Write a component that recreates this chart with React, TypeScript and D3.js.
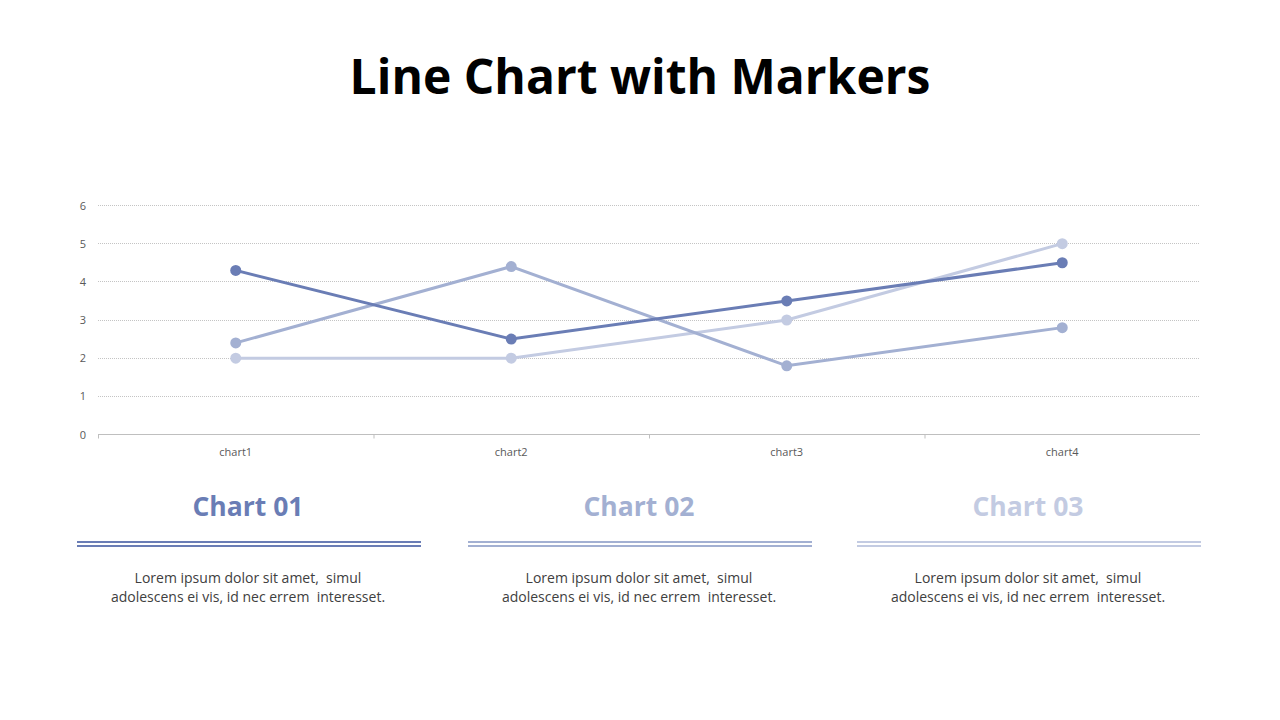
import React from "react";
import * as d3 from "d3";

const categories = ["chart1", "chart2", "chart3", "chart4"];
const series1 = [4.3, 2.5, 3.5, 4.5];
const series2 = [2.4, 4.4, 1.8, 2.8];
const series3 = [2.0, 2.0, 3.0, 5.0];
const yTicks = [0, 1, 2, 3, 4, 5, 6];
const cardTitles = ["Chart 01", "Chart 02", "Chart 03"];
const cardLines = ["Lorem ipsum dolor sit amet,  simul", "adolescens ei vis, id nec errem  interesset."];

const colors = ["#6a7db5", "#a3b0d2", "#c3cbe2"];

export default function App() {
  const W = 1280, H = 720;
  const left = 98, right = 1200, top = 205.5, bottom = 434.5;
  const x = d3.scaleBand<string>().domain(categories).range([left, right]);
  const y = d3.scaleLinear().domain([0, 6]).range([bottom, top]);
  const cx = (i: number) => (x(categories[i]) as number) + x.bandwidth() / 2;
  const line = d3.line<number>()
    .x((_, i) => cx(i))
    .y((d) => y(d));
  const allSeries = [series1, series2, series3];
  const cardCenters = [248, 639, 1028];
  const cardX = [[77, 421], [468, 812], [857, 1201]];
  const boundaries = [left, ...categories.map((c) => (x(c) as number) + x.bandwidth())];

  return (
    <svg width={W} height={H} style={{ position: "absolute", left: 0, top: 0, background: "#fff" }}>
      <text x={640} y={94} textAnchor="middle" fontFamily="'Open Sans', sans-serif" fontWeight={700} fontSize={48} fill="#000">
        Line Chart with Markers
      </text>
      {yTicks.map((t) => (
        <g key={t}>
          {t > 0 && (
            <line x1={left} x2={right} y1={y(t)} y2={y(t)} stroke="#c4c4c4" strokeWidth={1} strokeDasharray="1 1" shapeRendering="crispEdges" />
          )}
          <text x={86} y={y(t) + 4} textAnchor="end" fontFamily="'Open Sans', sans-serif" fontSize={11} fill="#595959">
            {t}
          </text>
        </g>
      ))}
      <line x1={left} x2={right} y1={bottom} y2={bottom} stroke="#bfbfbf" strokeWidth={1} />
      {boundaries.slice(0, -1).map((b, i) => (
        <line key={i} x1={b + 0.5} x2={b + 0.5} y1={bottom} y2={bottom + 4} stroke="#bfbfbf" strokeWidth={1} />
      ))}
      {categories.map((c, i) => (
        <text key={c} x={cx(i)} y={456} textAnchor="middle" fontFamily="'Open Sans', sans-serif" fontSize={11} fill="#595959">
          {c}
        </text>
      ))}
      {[2, 1, 0].map((si) => (
        <path key={si} d={line(allSeries[si]) || ""} fill="none" stroke={colors[si]} strokeWidth={3} />
      ))}
      {[2, 1, 0].map((si) => (
        <g key={"m" + si}>
          {allSeries[si].map((v, i) => (
            <circle key={i} cx={cx(i)} cy={y(v)} r={5.5} fill={colors[si]} />
          ))}
        </g>
      ))}
      {cardTitles.map((t, i) => (
        <g key={t}>
          <text x={cardCenters[i]} y={516} textAnchor="middle" fontFamily="'Open Sans', sans-serif" fontWeight={700} fontSize={26.5} fill={colors[i]}>
            {t}
          </text>
          <line x1={cardX[i][0]} x2={cardX[i][1]} y1={542} y2={542} stroke={colors[i]} strokeWidth={2} />
          <line x1={cardX[i][0]} x2={cardX[i][1]} y1={546} y2={546} stroke={colors[i]} strokeWidth={2} />
          {cardLines.map((l, j) => (
            <text key={j} x={cardCenters[i]} y={583 + j * 19} textAnchor="middle" fontFamily="'Open Sans', sans-serif" fontSize={14} fill="#404040" style={{ whiteSpace: "pre" }}>
              {l}
            </text>
          ))}
        </g>
      ))}
    </svg>
  );
}
